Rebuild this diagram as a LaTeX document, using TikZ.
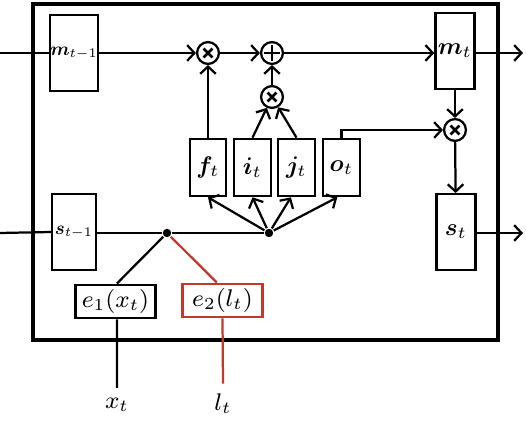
\RequirePackage{fix-cm}
\documentclass[tikz,border=0pt]{standalone}
\usepackage{amsmath,amssymb,bm,graphicx}
\usetikzlibrary{arrows.meta}
\definecolor{embred}{RGB}{192,57,43}

\begin{document}
\begin{tikzpicture}[x=0.357pt,y=-0.357pt,line width=0.8pt,font=\fontsize{8.6}{10}\selectfont,
		>={Straight Barb[length=2.6pt,width=5.6pt]},
		cell/.style={draw,minimum width=15.6pt,minimum height=27pt,inner sep=0pt},
		gate/.style={draw,minimum width=13pt,minimum height=20.5pt,inner sep=0pt},
		embed/.style={draw,minimum width=28.6pt,minimum height=12pt,inner sep=1pt},
		op/.style={draw,circle,minimum size=7.8pt,inner sep=0pt},
		mulop/.style={op,path picture={
				\draw[line width=1pt] ([shift={(-1.6pt,-1.6pt)}]path picture bounding box.center) -- ([shift={(1.6pt,1.6pt)}]path picture bounding box.center);
				\draw[line width=1pt] ([shift={(-1.6pt,1.6pt)}]path picture bounding box.center) -- ([shift={(1.6pt,-1.6pt)}]path picture bounding box.center);}},
		addop/.style={op,path picture={
				\draw[line width=1pt] ([xshift=-2.8pt]path picture bounding box.center) -- ([xshift=2.8pt]path picture bounding box.center);
				\draw[line width=1pt] ([yshift=-2.8pt]path picture bounding box.center) -- ([yshift=2.8pt]path picture bounding box.center);}},
		junct/.style={circle,fill,minimum size=3pt,inner sep=0pt}]
		\useasboundingbox (0,0) rectangle (526,421);
		\draw[line width=1.5pt] (33,4) rectangle (498,340);
		% memory and state
		\node[cell] (mprev) at (74,53) {\scalebox{0.78}{$\bm{m}_{t-1}$}};
		\node[cell] (sprev) at (74,232) {\scalebox{0.78}{$\bm{s}_{t-1}$}};
		\node[cell,minimum width=14pt] (mt) at (455,51) {$\bm{m}_t$};
		\node[cell,minimum width=14pt] (st) at (456,232) {$\bm{s}_t$};
		% operators
		\node[mulop] (fmul) at (208,53) {};
		\node[addop] (add) at (272,53) {};
		\node[mulop] (imul) at (272,97) {};
		\node[mulop] (omul) at (455,130) {};
		% gates
		\node[gate] (ft) at (208,167.5) {$\bm{f}_t$};
		\node[gate] (it) at (252.5,167.5) {$\bm{i}_t$};
		\node[gate] (jt) at (296.5,167.5) {$\bm{j}_t$};
		\node[gate] (ot) at (341.5,167.5) {$\bm{o}_t$};
		% inputs
		\node[junct] (edot) at (167,233) {};
		\node[junct] (gdot) at (269,233) {};
		\node[embed] (e1) at (115.5,301.5) {$e_1(x_t)$};
		\node[embed,draw=embred] (e2) at (222.5,300.5) {$e_2(l_t)$};
		\node (xt) at (117,405) {$x_t$};
		\node (lt) at (223,404) {$l_t$};
		\coordinate (min) at (0,53);
		\coordinate (sin) at (0,233);
		\coordinate (mout) at (523,53);
		\coordinate (sout) at (523,233);

		\draw (min) -- (mprev.west);
		\draw[->] (mprev.east) -- (fmul);
		\draw[->] (fmul) -- (add);
		\draw[->] (add) -- (add -| mt.west);
		\draw[->] (mt.east |- mout) -- (mout);
		\draw[->] (mt) -- (omul);
		\draw[->] (omul) -- (st);
		\draw[->] (st.east |- sout) -- (sout);
		\draw[->] (ft) -- (fmul);
		\draw[->] (it.north) -- (imul);
		\draw[->] (jt.north) -- (imul);
		\draw[->] (imul) -- (add);
		\draw[->] (ot.north) |- (omul);
		\draw (sin) -- (sprev.west);
		\draw (sprev.east |- edot) -- (edot) -- (gdot);
		\draw[->] (gdot) -- (ft.south);
		\draw[->] (gdot) -- (it.south);
		\draw[->] (gdot) -- ([xshift=-2pt]jt.south);
		\draw[->] (gdot) -- ([xshift=-1.5pt]ot.south);
		\draw (edot) -- ([xshift=0.5pt]e1.north);
		\draw[embred] (edot) -- ([xshift=-2pt]e2.north);
		\draw ([xshift=0.5pt]e1.south) -- (xt.north);
		\draw[embred] (e2.south) -- (lt.north);
	\end{tikzpicture}
\end{document}
